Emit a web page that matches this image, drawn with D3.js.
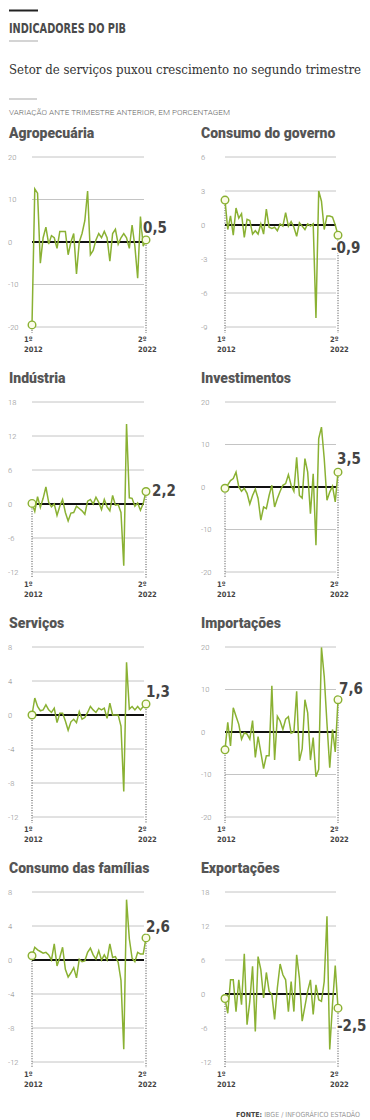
<!DOCTYPE html>
<html>
<head>
<meta charset="utf-8">
<script src="https://cdn.jsdelivr.net/npm/d3@7"></script>
<style>
  body { margin: 0; background: #fff; }
  svg { display: block; }
</style>
</head>
<body>
<script>
// variação trimestral, 1º tri 2012 a 2º tri 2022 (42 trimestres)
var agro = [-19.5, 12.5, 11.5, -5.0, 1.0, 3.5, -0.5, 1.5, 1.0, -1.5, 2.5, 2.5, 2.5, -3.0, 0.0, 2.0,
            -7.5, 0.0, 2.0, 5.0, 12.0, -3.0, -2.0, 0.5, 2.0, 1.0, 2.5, 1.0, -4.5, 2.0, 3.0, -0.5,
            1.0, 2.0, 1.0, -1.5, 4.0, -1.0, -8.5, 6.0, -1.0, 0.5];
var governo = [2.2, -0.4, 0.8, -0.9, 1.5, 0.6, 1.0, -1.1, 0.5, 0.4, -0.8, -0.5, -0.8, 0.1, -0.8, 1.4,
               -0.2, -0.3, -0.2, -0.5, 0.1, -0.1, 1.1, -0.1, 0.3, -0.2, -1.0, 0.2, -0.1, -0.4, 0.1, -0.1,
               0.1, -8.2, 3.0, 2.1, -0.4, 0.8, 0.8, 0.7, 0.0, -0.9];
var industria = [0.1, -1.3, 1.3, -0.6, 1.0, 3.0, 0.3, -0.5, 0.0, -2.0, -0.4, 0.8, -1.5, -3.0, -1.6, -1.5,
                 -0.4, -0.8, -1.2, -1.8, 0.5, 0.8, 0.0, 1.2, 0.3, -1.0, 0.8, -0.5, -1.2, 1.5, -0.2, -0.1,
                 -1.5, -10.9, 14.1, 1.1, 1.0, -0.4, 0.2, -1.1, 0.1, 2.2];
var investimentos = [-0.3, 0.5, 1.5, 2.0, 3.5, 0.0, -1.0, -0.3, -1.5, -4.0, -2.0, -0.5, -2.7, -7.8, -4.7, -5.1,
                     -2.0, 0.4, -4.7, -2.7, -1.0, 0.4, 0.8, 2.9, 0.4, -1.0, 7.0, -2.0, -2.6, 6.7, 3.5, -6.3,
                     3.1, -13.7, 11.4, 14.1, 6.7, -3.1, -1.2, 0.2, -3.5, 3.5];
var servicos = [0.0, 2.0, 1.0, 0.5, 0.6, 1.2, 0.6, 0.3, 0.8, -0.9, 0.2, 0.2, -0.7, -1.8, -0.8, -0.5,
                -0.9, 0.4, -0.5, -0.3, 0.3, 1.0, 0.6, 0.3, 0.8, 0.6, 0.8, -0.4, 1.4, 0.0, 0.0, 0.0,
                -1.3, -9.0, 6.2, 0.7, 1.0, 0.6, 1.0, 0.6, 1.0, 1.3];
var importacoes = [-4.2, 2.3, -3.3, 5.7, 3.7, 1.8, -1.7, -0.2, -0.5, -1.7, 2.7, -6.0, -1.1, -4.8, -8.6, -5.6,
                   -5.6, 10.9, -6.6, 3.7, 2.6, 0.6, 3.0, 3.6, -0.3, 0.0, 9.6, -6.8, -4.0, 7.6, 4.5, -6.6,
                   -1.3, -10.5, -8.8, 19.9, 13.1, 2.0, -8.4, 0.6, -4.7, 7.6];
var familias = [0.5, 1.5, 1.2, 1.0, 0.8, 0.9, 0.6, 0.0, 1.9, -0.7, 0.3, 1.5, -1.1, -2.0, -1.5, -0.9,
                -2.1, 0.1, -0.2, -0.1, 0.9, 1.4, 0.6, 0.1, 1.1, 0.0, 0.6, 0.0, 1.9, 0.3, 0.4, -0.3,
                -2.4, -10.5, 7.1, 2.5, 0.2, -0.2, 0.9, 0.7, 0.7, 2.6];
var exportacoes = [-0.8, -3.4, 2.5, 2.5, -3.1, 2.5, -1.9, 7.1, -5.4, -1.3, 4.9, -6.6, 6.6, 4.3, -0.7, 3.8,
                   0.5, -0.1, -4.5, 1.1, 5.3, 3.4, 2.5, -3.1, 2.2, -3.1, 6.9, 2.8, -4.8, -2.2, 0.5, 2.5,
                   -3.6, 1.6, -1.0, -1.3, 2.2, 13.7, -9.8, -1.9, 5.0, -2.5];

var ticks20 = [20, 10, 0, -10, -20];
var ticksGov = [6, 3, 0, -3, -6, -9];
var ticks18 = [18, 12, 6, 0, -6, -12];
var ticks8 = [8, 4, 0, -4, -8, -12];

var startLabel = ["1º", "2012"];
var endLabel = ["2º", "2022"];

var panels = [
  {title: "Agropecuária", values: agro, ticks: ticks20, lab: [-3, -7]},
  {title: "Consumo do governo", values: governo, ticks: ticksGov, lab: [-7, 18]},
  {title: "Indústria", values: industria, ticks: ticks18, lab: [6, 4]},
  {title: "Investimentos", values: investimentos, ticks: ticks20, lab: [-1, -8]},
  {title: "Serviços", values: servicos, ticks: ticks8, lab: [0, -7]},
  {title: "Importações", values: importacoes, ticks: ticks20, lab: [1, -6]},
  {title: "Consumo das famílias", values: familias, ticks: ticks8, lab: [0, -6]},
  {title: "Exportações", values: exportacoes, ticks: ticks18, lab: [-1, 23]}
];

var W = 370, H = 1120;
var green = "#8ab133";
var colX = [[32, 146], [225, 338]];
var colText = [8, 201];
var rowTop = [157, 402, 647, 892];
var plotH = 170;
var condensed = "'DejaVu Sans Condensed', 'DejaVu Sans', sans-serif";

var svg = d3.select("body").append("svg")
  .attr("width", W)
  .attr("height", H);

// cabeçalho
svg.append("rect").attr("x", 9).attr("y", 9.5).attr("width", 29).attr("height", 2).attr("fill", "#222");
svg.append("text")
  .attr("x", 9).attr("y", 33)
  .attr("font-family", condensed)
  .attr("font-stretch", "condensed")
  .attr("font-weight", "bold")
  .attr("font-size", 14.5)
  .attr("fill", "#4a4a4a")
  .attr("textLength", 117).attr("lengthAdjust", "spacingAndGlyphs")
  .text("INDICADORES DO PIB");
svg.append("rect").attr("x", 9).attr("y", 40.5).attr("width", 29).attr("height", 1).attr("fill", "#aaa");
svg.append("text")
  .attr("x", 9).attr("y", 74)
  .attr("font-family", "'DejaVu Serif Condensed', 'DejaVu Serif', serif")
  .attr("font-stretch", "condensed")
  .attr("font-size", 12.5)
  .attr("fill", "#333")
  .attr("textLength", 352).attr("lengthAdjust", "spacingAndGlyphs")
  .text("Setor de serviços puxou crescimento no segundo trimestre");
svg.append("rect").attr("x", 9).attr("y", 98.5).attr("width", 28).attr("height", 1).attr("fill", "#aaa");
svg.append("text")
  .attr("x", 9).attr("y", 115)
  .attr("font-family", "Roboto, sans-serif")
  .attr("font-weight", 300)
  .attr("font-size", 8)
  .attr("fill", "#666")
  .attr("textLength", 221).attr("lengthAdjust", "spacingAndGlyphs")
  .text("VARIAÇÃO ANTE TRIMESTRE ANTERIOR, EM PORCENTAGEM");

var fmt = function(v) { return d3.format(".1f")(v).replace(".", ",").replace("−", "-"); };

panels.forEach(function(p, i) {
  var col = i % 2, row = Math.floor(i / 2);
  var top = rowTop[row];
  var x = d3.scaleLinear().domain([0, p.values.length - 1]).range(colX[col]);
  var y = d3.scaleLinear().domain(d3.extent(p.ticks)).range([top + plotH, top]);
  var g = svg.append("g");

  g.append("text")
    .attr("x", col ? 201 : 9).attr("y", top - 19)
    .attr("font-family", "Roboto, sans-serif")
    .attr("font-weight", 900)
    .attr("font-size", 14)
    .attr("fill", "#555")
    .text(p.title);

  // grade
  g.selectAll(".grid").data(p.ticks.filter(function(t) { return t !== 0; }))
    .join("line")
    .attr("x1", colX[col][0]).attr("x2", colX[col][1] - 2)
    .attr("y1", function(d) { return y(d); }).attr("y2", function(d) { return y(d); })
    .attr("stroke", "#b5b5b5").attr("stroke-width", 0.8);

  g.selectAll(".tick").data(p.ticks)
    .join("text")
    .attr("x", colText[col]).attr("y", function(d) { return y(d); })
    .attr("dy", "0.35em")
    .attr("font-family", "Roboto, sans-serif")
    .attr("font-weight", 300)
    .attr("font-size", 7.5)
    .attr("fill", "#8a8a8a")
    .text(function(d) { return d; });

  // linhas pontilhadas nas pontas
  var last = p.values.length - 1;
  [0, last].forEach(function(k) {
    g.append("line")
      .attr("x1", x(k)).attr("x2", x(k))
      .attr("y1", y(p.values[k])).attr("y2", top + plotH + 6)
      .attr("stroke", "#444").attr("stroke-width", 1)
      .attr("stroke-dasharray", "1,1.5");
  });

  g.append("line")
    .attr("x1", colX[col][0]).attr("x2", colX[col][1] - 2)
    .attr("y1", y(0)).attr("y2", y(0))
    .attr("stroke", "#111").attr("stroke-width", 1.8);

  g.append("path")
    .datum(p.values)
    .attr("fill", "none")
    .attr("stroke", green)
    .attr("stroke-width", 1.5)
    .attr("d", d3.line().x(function(d, j) { return x(j); }).y(function(d) { return y(d); }));

  g.selectAll("circle").data([0, last])
    .join("circle")
    .attr("cx", function(k) { return x(k); })
    .attr("cy", function(k) { return y(p.values[k]); })
    .attr("r", 3.8)
    .attr("fill", "#fbfbe8")
    .attr("stroke", green)
    .attr("stroke-width", 1.4);

  g.append("text")
    .attr("x", x(last) + p.lab[0]).attr("y", y(p.values[last]) + p.lab[1])
    .attr("font-family", condensed)
    .attr("font-stretch", "condensed")
    .attr("font-weight", "bold")
    .attr("font-size", 15)
    .attr("fill", "#444")
    .attr("stroke", "#fff").attr("stroke-width", 3).attr("paint-order", "stroke")
    .text(fmt(p.values[last]));

  // rótulos do eixo x
  [[0, startLabel], [last, endLabel]].forEach(function(e) {
    var t = g.append("text")
      .attr("x", x(e[0]) - 8).attr("y", top + plotH + 15)
      .attr("font-family", condensed)
      .attr("font-stretch", "condensed")
      .attr("font-weight", "bold")
      .attr("font-size", 7.5)
      .attr("fill", "#444");
    t.append("tspan").attr("x", x(e[0]) - 8).text(e[1][0]);
    t.append("tspan").attr("x", x(e[0]) - 8).attr("dy", 10).text(e[1][1]);
  });
});

// fonte
var src = svg.append("text")
  .attr("x", 360).attr("y", 1117)
  .attr("text-anchor", "end")
  .attr("font-family", condensed)
  .attr("font-stretch", "condensed")
  .attr("font-size", 7)
  .attr("fill", "#999");
src.append("tspan").attr("font-weight", "bold").attr("fill", "#444").text("FONTE: ");
src.append("tspan").text("IBGE / INFOGRÁFICO ESTADÃO");
</script>
</body>
</html>
